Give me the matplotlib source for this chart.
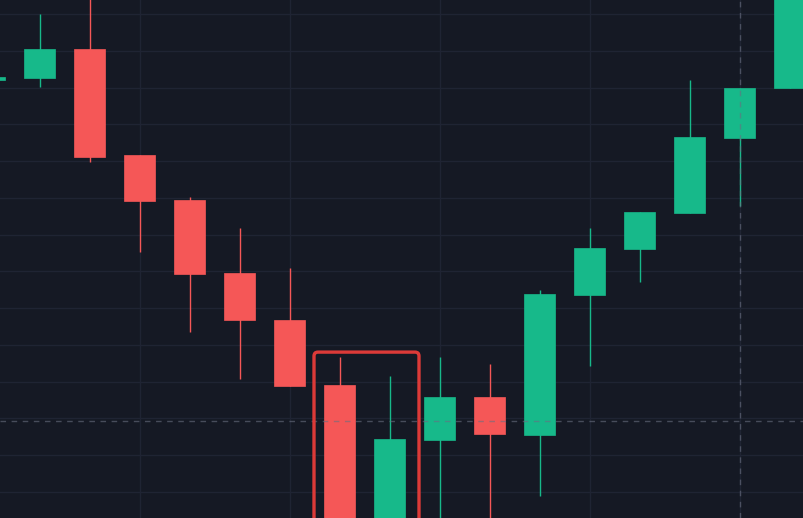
import matplotlib
matplotlib.use("Agg")
import matplotlib.pyplot as plt
from matplotlib.patches import Rectangle, FancyBboxPatch

# Свечи (OHLC), индекс свечи = позиция по оси X
opens = [112.20, 112.26, 113.05, 110.16, 108.94, 106.95, 105.67, 103.90, 99.90,
         102.41, 103.58, 102.54, 106.35, 107.61, 108.59, 110.63, 111.99]
highs = [112.29, 114.00, 114.80, 110.16, 109.02, 108.18, 107.09, 104.67, 104.15,
         104.67, 104.48, 106.49, 108.18, 108.61, 112.20, 111.99, 115.20]
lows = [112.20, 112.01, 109.97, 107.52, 105.35, 104.07, 103.88, 99.40, 99.70,
        99.50, 99.30, 100.88, 104.42, 106.71, 108.59, 108.78, 111.99]
closes = [112.29, 113.05, 110.11, 108.91, 106.93, 105.67, 103.88, 99.60, 102.44,
          103.58, 102.57, 106.38, 107.63, 108.61, 110.65, 111.99, 115.00]

# Перекрестие курсора и выделенная зона
cross_x = 15
cross_price = 102.93
box_left, box_right, box_top = 6.48, 8.58, 104.80

BG = "#151924"
GRID = "#1f2433"
UP = "#17b98a"
DOWN = "#f55757"

fig = plt.figure(figsize=(8.04, 5.18), dpi=100)
fig.patch.set_facecolor(BG)
ax = fig.add_axes([0, 0, 1, 1])
ax.set_facecolor(BG)

ax.set_xlim(0.2, 16.28)
ax.set_ylim(100.286, 114.381)

# Сетка
for gy in range(101, 115):
    ax.axhline(gy, color=GRID, lw=1, zorder=0)
for gx in range(3, 17, 3):
    ax.axvline(gx, color=GRID, lw=1, zorder=0)

# Свечи
width = 0.62
for i, (o, h, l, c) in enumerate(zip(opens, highs, lows, closes)):
    color = UP if c >= o else DOWN
    ax.vlines(i, l, h, color=color, lw=1, zorder=2)
    ax.add_patch(Rectangle((i - width / 2, min(o, c)), width, abs(c - o),
                           facecolor=color, edgecolor=color, lw=0.5, zorder=3))

# Перекрестие (полупрозрачное, поверх свечей)
ax.axhline(cross_price, color="#6a6f80", lw=1, ls=(0, (4, 4)), alpha=0.6, zorder=4)
ax.axvline(cross_x, color="#6a6f80", lw=1, ls=(0, (4, 4)), alpha=0.6, zorder=4)

# Красная рамка вокруг двух свечей (скруглённые углы)
ax.add_patch(FancyBboxPatch((box_left, 99.0), box_right - box_left, box_top - 99.0,
                            boxstyle="round,pad=0,rounding_size=0.08",
                            mutation_aspect=50 / 36.75,
                            fill=False, edgecolor="#dc3a38", lw=2.4, zorder=5))

ax.set_xticks([])
ax.set_yticks([])
for s in ax.spines.values():
    s.set_visible(False)

fig.savefig("out.png", dpi=100, facecolor=BG)
